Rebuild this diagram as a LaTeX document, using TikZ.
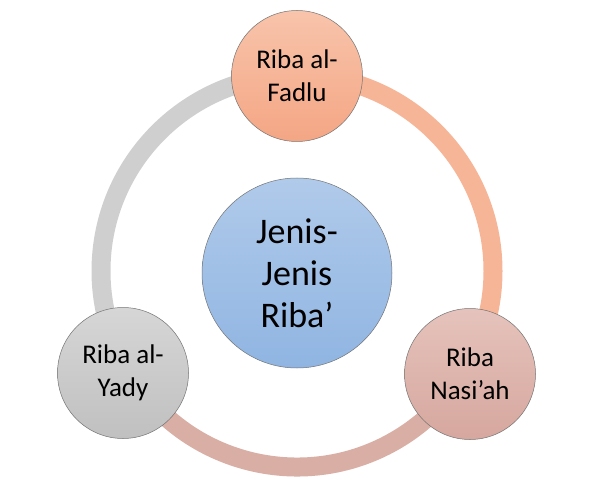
\documentclass[tikz,border=0pt]{standalone}
\usepackage{fontspec}
\setmainfont{Carlito}
\definecolor{ringgray}{HTML}{CFCFCF}
\definecolor{ringsalmon}{HTML}{F6B597}
\definecolor{ringrose}{HTML}{D9AEA5}
\definecolor{ctop}{HTML}{B0CAEA}
\definecolor{cbot}{HTML}{90B5E2}
\definecolor{stop}{HTML}{F8C4AB}
\definecolor{sbot}{HTML}{F4A684}
\definecolor{gtop}{HTML}{D6D6D6}
\definecolor{gbot}{HTML}{C0C0C0}
\definecolor{rtop}{HTML}{E5C3BC}
\definecolor{rbot}{HTML}{D6A79E}
\begin{document}
\begin{tikzpicture}[x=1pt,y=1pt,
  bubble/.style={circle, draw=black!55, line width=0.5pt, minimum size=131pt, inner sep=0pt, align=center, font=\fontsize{27}{33}\selectfont},
  hub/.style={circle, draw=black!55, line width=0.5pt, minimum size=190pt, inner sep=0pt, align=center, font=\fontsize{36}{42}\selectfont, top color=ctop, bottom color=cbot},
  ringarc/.style={line width=19pt}]
\useasboundingbox (0,0) rectangle (597,488);
\coordinate (rc) at (297,217);
% ring arcs
\draw[ringarc, ringgray] (rc) ++(90:196) arc[start angle=90, end angle=210, radius=196];
\draw[ringarc, ringsalmon] (rc) ++(90:196) arc[start angle=90, end angle=-30, radius=196];
\draw[ringarc, ringrose] (rc) ++(210:196) arc[start angle=210, end angle=330, radius=196];
% nodes
\node[hub] (c) at (297,215) {Jenis-\\Jenis\\Riba’};
\node[bubble, top color=stop, bottom color=sbot] (t) at (297,412) {Riba al-\\Fadlu};
\node[bubble, top color=gtop, bottom color=gbot] (l) at (123,115) {Riba al-\\Yady};
\node[bubble, top color=rtop, bottom color=rbot] (r) at (470,114) {Riba\\Nasi’ah};
\end{tikzpicture}
\end{document}
